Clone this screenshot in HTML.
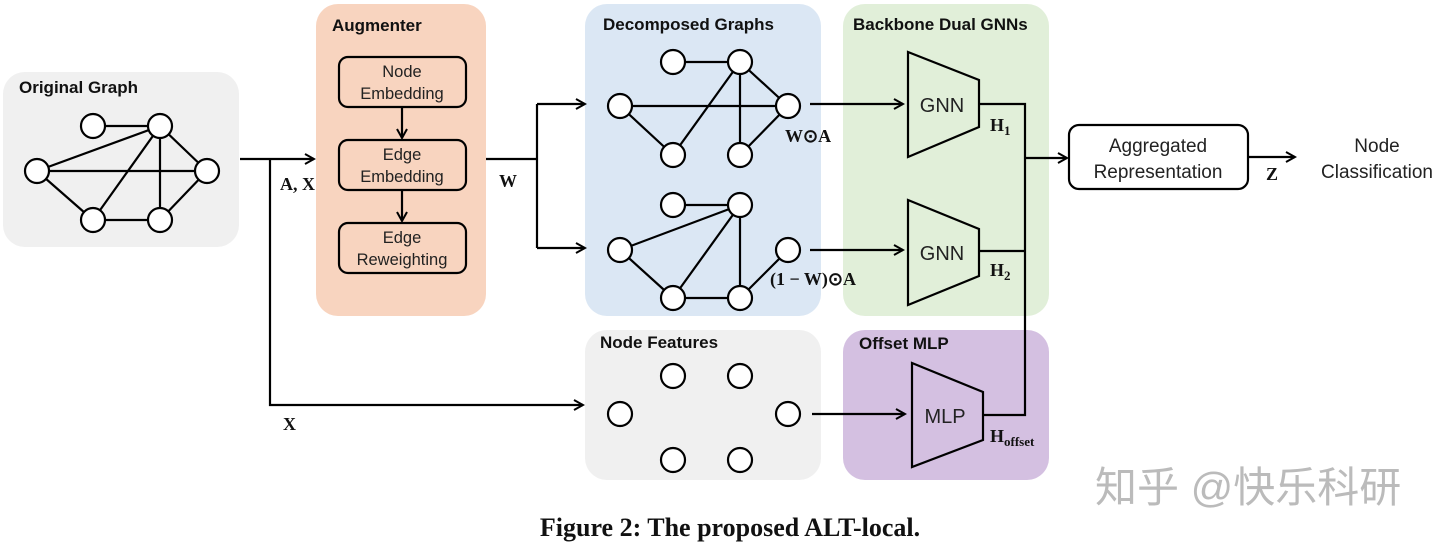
<!DOCTYPE html>
<html><head><meta charset="utf-8"><style>
html,body{margin:0;padding:0;background:#fff;width:1440px;height:546px;overflow:hidden}
svg text{font-family:"Liberation Sans",sans-serif}
.t{font-weight:bold;font-size:17px;fill:#111}
.m{font-family:"Liberation Serif",serif !important;font-weight:bold;font-size:18px;fill:#111}
.b{font-size:16.5px;fill:#222}
</style></head><body>
<svg width="1440" height="546" viewBox="0 0 1440 546" xmlns="http://www.w3.org/2000/svg">
<defs><marker id="a" markerWidth="12" markerHeight="12" refX="10" refY="6" orient="auto" markerUnits="userSpaceOnUse"><path d="M1,1 L10,6 L1,11" fill="none" stroke="#000" stroke-width="2"/></marker></defs>
<rect x="3" y="72" width="236" height="175" rx="22" fill="#f0f0f0"/>
<rect x="316" y="4" width="170" height="312" rx="22" fill="#f8d4bf"/>
<rect x="585" y="4" width="236" height="312" rx="22" fill="#dbe7f4"/>
<rect x="843" y="4" width="206" height="312" rx="22" fill="#e1efd9"/>
<rect x="585" y="330" width="236" height="150" rx="22" fill="#f0f0f0"/>
<rect x="843" y="330" width="206" height="150" rx="22" fill="#d4c0e1"/>
<text x="19" y="93" class="t">Original Graph</text>
<text x="332" y="31" class="t">Augmenter</text>
<text x="603" y="30" class="t">Decomposed Graphs</text>
<text x="853" y="30" class="t">Backbone Dual GNNs</text>
<text x="600" y="348" class="t">Node Features</text>
<text x="859" y="349" class="t">Offset MLP</text>
<g stroke="#000" stroke-width="2.2" fill="none">
<path d="M93,126H160M37,171H207M37,171L160,126M37,171L93,220M93,220L160,126M93,220H160M160,126V220M160,126L207,171M207,171L160,220"/>
<path d="M673,62H740M620,106H788M620,106L673,155M673,155L740,62M740,62V155M740,62L788,106M788,106L740,155"/>
<path d="M673,205H740M620,250L740,205M620,250L673,298M673,298L740,205M740,205V298M673,298H740M740,298L788,250"/>
<rect x="339" y="57" width="127" height="50" rx="9"/>
<rect x="339" y="140" width="127" height="50" rx="9"/>
<rect x="339" y="223" width="127" height="50" rx="9"/>
<path d="M402,107V138" marker-end="url(#a)"/>
<path d="M402,190V221" marker-end="url(#a)"/>
<path d="M240,159H314" marker-end="url(#a)"/>
<path d="M270,159V405H583" marker-end="url(#a)"/>
<path d="M486,159H537"/>
<path d="M537,104V248"/>
<path d="M537,104H585" marker-end="url(#a)"/>
<path d="M537,248H585" marker-end="url(#a)"/>
<path d="M810,104H903" marker-end="url(#a)"/>
<path d="M810,250H903" marker-end="url(#a)"/>
<path d="M812,414H905" marker-end="url(#a)"/>
<path d="M908,52L979,80V127L908,157Z"/>
<path d="M908,200L979,229V276L908,305Z"/>
<path d="M912,363L983,392V440L912,467Z"/>
<path d="M979,104H1025V415H983M979,251H1025"/>
<path d="M1025,158H1067" marker-end="url(#a)"/>
<rect x="1069" y="125" width="179" height="64" rx="10"/>
<path d="M1248,157H1295" marker-end="url(#a)"/>
</g>
<g fill="#fff" stroke="#000" stroke-width="2.2">
<circle cx="93" cy="126" r="12"/><circle cx="160" cy="126" r="12"/><circle cx="37" cy="171" r="12"/><circle cx="207" cy="171" r="12"/><circle cx="93" cy="220" r="12"/><circle cx="160" cy="220" r="12"/>
<circle cx="673" cy="62" r="12"/><circle cx="740" cy="62" r="12"/><circle cx="620" cy="106" r="12"/><circle cx="788" cy="106" r="12"/><circle cx="673" cy="155" r="12"/><circle cx="740" cy="155" r="12"/>
<circle cx="673" cy="205" r="12"/><circle cx="740" cy="205" r="12"/><circle cx="620" cy="250" r="12"/><circle cx="788" cy="250" r="12"/><circle cx="673" cy="298" r="12"/><circle cx="740" cy="298" r="12"/>
<circle cx="673" cy="376" r="12"/><circle cx="740" cy="376" r="12"/><circle cx="620" cy="414" r="12"/><circle cx="788" cy="414" r="12"/><circle cx="673" cy="460" r="12"/><circle cx="740" cy="460" r="12"/>
</g>
<g class="b" text-anchor="middle">
<text x="402" y="77">Node</text><text x="402" y="99">Embedding</text>
<text x="402" y="160">Edge</text><text x="402" y="182">Embedding</text>
<text x="402" y="243">Edge</text><text x="402" y="265">Reweighting</text>
<text x="1158" y="152" font-size="19">Aggregated</text><text x="1158" y="178" font-size="19">Representation</text>
<text x="1377" y="152" font-size="19">Node</text><text x="1377" y="178" font-size="19">Classification</text>
<text x="942" y="112" font-size="20">GNN</text>
<text x="942" y="260" font-size="20">GNN</text>
<text x="945" y="423" font-size="20">MLP</text>
</g>
<text x="280" y="190" class="m">A, X</text>
<text x="283" y="430" class="m">X</text>
<text x="499" y="187" class="m">W</text>
<text x="785" y="142" class="m">W⊙A</text>
<text x="770" y="285" class="m">(1 − W)⊙A</text>
<text x="990" y="131" class="m">H<tspan font-size="13" dy="4">1</tspan></text>
<text x="990" y="276" class="m">H<tspan font-size="13" dy="4">2</tspan></text>
<text x="990" y="442" class="m">H<tspan font-size="13" dy="4">offset</tspan></text>
<text x="1266" y="180" class="m">Z</text>
<text x="1095" y="502" font-size="42" fill="#bbb" style="font-family:'Liberation Sans','Noto Sans CJK SC',sans-serif">知乎 @快乐科研</text>
<text x="730" y="536" text-anchor="middle" style="font-family:'Liberation Serif',serif;font-weight:bold;font-size:26px" fill="#111">Figure 2: The proposed ALT-local.</text>
</svg>
</body></html>
